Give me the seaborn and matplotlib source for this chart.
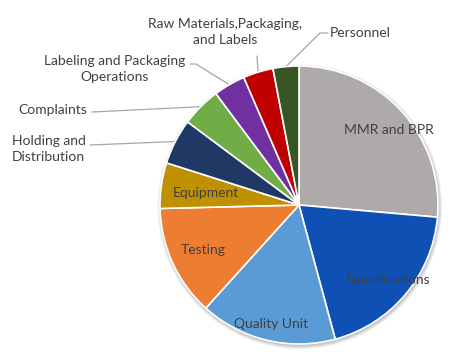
import numpy as np
import matplotlib
matplotlib.use("Agg")
import matplotlib.pyplot as plt
from matplotlib.patches import Circle
import seaborn as sns

# data (share of findings, clockwise from 12 o'clock)
categories = ["MMR and BPR", "Specifications", "Quality Unit", "Testing", "Equipment",
              "Holding and\nDistribution", "Complaints", "Labeling and Packaging\nOperations",
              "Raw Materials,Packaging,\nand Labels", "Personnel"]
shares = [26.4, 19.4, 15.9, 12.9, 5.3, 5.3, 4.6, 3.7, 3.5, 3.0]
colors = ["#AEAAAA", "#0E50B4", "#5B9BD5", "#ED7D31", "#BF9000",
          "#203864", "#70AD47", "#7030A0", "#C00000", "#375623"]

sns.set_theme(style="white")
plt.rcParams["font.family"] = ["Lato", "DejaVu Sans"]
TXT = "#404040"
LINE = "#A6A6A6"
FS = 10

W, H, DPI = 457, 354, 100
cx, cy, R = 299, 205, 139  # pie centre / radius in pixels

fig = plt.figure(figsize=(W / DPI, H / DPI), dpi=DPI)
ax = fig.add_axes([0, 0, 1, 1])

def px(x, y):
    # pixel -> data coords
    return (x - cx) / R, (cy - y) / R

# soft drop shadow behind the pie
for k in range(5):
    ax.add_patch(Circle((0.006, -0.012), 1.0 + 0.006 * k, color="black",
                        alpha=0.05, lw=0, zorder=0))

wedges, _ = ax.pie(shares, colors=sns.color_palette(colors), startangle=90, counterclock=False,
                   radius=1, wedgeprops=dict(edgecolor="white", linewidth=1.2, zorder=2))
ax.set_aspect("auto")
ax.set_xlim(-cx / R, (W - cx) / R)
ax.set_ylim(-(H - cy) / R, cy / R)
ax.axis("off")

# labels inside the big slices
inner = {0: (389, 130), 1: (388, 280), 2: (271, 324), 3: (203, 250), 4: (206, 193)}
for i, (x, y) in inner.items():
    ax.text(*px(x, y), categories[i], ha="center", va="center", fontsize=FS, color=TXT, zorder=3)

def edge(i):
    w = wedges[i]
    a = np.deg2rad((w.theta1 + w.theta2) / 2)
    return np.cos(a), np.sin(a)

# outside labels with leader lines: (text pos, align, line points)
outer = {
    5: ((12, 149), "left", [(90, 145)]),
    6: ((18, 110), "left", [(92, 112)]),
    7: ((115, 69), "center", [(190, 64), (196, 64)]),
    8: ((225, 32), "center", [(257, 56)]),
    9: ((330, 33), "left", [(328, 33), (320, 33)]),
}
for i, (tp, ha, pts) in outer.items():
    ax.text(*px(*tp), categories[i], ha=ha, va="center", fontsize=FS, color=TXT,
            linespacing=1.4, multialignment="center" if ha == "center" else "left")
    xs = [px(*p)[0] for p in pts] + [edge(i)[0]]
    ys = [px(*p)[1] for p in pts] + [edge(i)[1]]
    ax.plot(xs, ys, color=LINE, lw=0.9, zorder=1)

fig.savefig("out.png", dpi=DPI, facecolor="white")
